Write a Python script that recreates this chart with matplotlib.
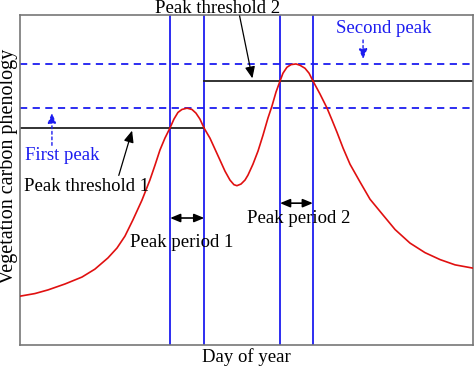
#!/usr/bin/env python

import matplotlib
matplotlib.use('Agg')
import matplotlib.pyplot as plt

plt.rcParams['font.family'] = ['Liberation Serif', 'DejaVu Serif']
fs = 13.5

# curve (day of year, relative phenology value)
days = [0, 12.1, 22.6, 36.3, 50.0, 60.4, 70.9, 78.2, 84.6, 91.0,
        98.3, 104.7, 108.8, 112.8, 116.8, 120.9, 124.1, 127.3, 130.5, 134.6,
        138.6, 141.8, 145.0, 148.3, 153.1, 157.1, 161.1, 165.2, 169.2, 172.4,
        174.8, 178.1, 181.3, 183.7, 187.7, 191.8, 195.8, 199.8, 203.0, 206.3,
        209.5, 211.9, 215.1, 218.4, 222.4, 225.6, 229.6, 232.9, 236.1, 241.7,
        247.4, 251.4, 255.4, 260.3, 265.9, 274.0, 282.0, 292.5, 302.2, 314.2,
        326.3, 338.4, 350.5, 365]
values = [0.148, 0.156, 0.167, 0.185, 0.206, 0.230, 0.264, 0.294, 0.330, 0.379,
          0.439, 0.500, 0.545, 0.591, 0.627, 0.658, 0.685, 0.705, 0.714, 0.718,
          0.714, 0.703, 0.685, 0.658, 0.627, 0.594, 0.561, 0.527, 0.500, 0.486,
          0.483, 0.488, 0.500, 0.515, 0.548, 0.588, 0.636, 0.688, 0.724, 0.767,
          0.800, 0.824, 0.842, 0.850, 0.852, 0.848, 0.839, 0.824, 0.800, 0.761,
          0.718, 0.682, 0.645, 0.597, 0.548, 0.494, 0.442, 0.394, 0.350, 0.309,
          0.280, 0.259, 0.243, 0.233]

first_peak = 0.718
second_peak = 0.852
threshold1 = 0.658
threshold2 = 0.800
period1 = [121, 148.5]
period2 = [209.5, 236]

blue = '#1c1cf0'
red = '#e01010'


def main():
    fig = plt.figure(figsize=(4.74, 3.69), dpi=100)
    ax = fig.add_axes([0.042, 0.065, 0.956, 0.894])

    ax.plot(days, values, color=red, lw=1.2, zorder=3)

    for d in period1 + period2:
        ax.axvline(d, color=blue, lw=1.3)

    ax.axhline(first_peak, color=blue, lw=1.3, ls=(0, (4, 3)))
    ax.axhline(second_peak, color=blue, lw=1.3, ls=(0, (4, 3)))

    ax.plot([0, period1[1]], [threshold1] * 2, color='#222222', lw=1.3)
    ax.plot([period1[1], 365], [threshold2] * 2, color='#222222', lw=1.3)

    ax.set_xlim(0, 365)
    ax.set_ylim(0, 1)
    ax.set_xticks([])
    ax.set_yticks([])
    for sp in ax.spines.values():
        sp.set_color('#777777')
        sp.set_linewidth(1.2)

    ax.set_xlabel('Day of year', fontsize=fs, labelpad=2)
    fig.text(0.018, 0.55, 'Vegetation carbon phenology', fontsize=14.5,
             rotation=90, ha='center', va='center')

    # thresholds
    ax.annotate('', xy=(91, threshold1), xytext=(79, 0.506),
                arrowprops=dict(arrowstyle='-|>,head_length=0.7,head_width=0.3',
                                color='black', lw=0.9))
    ax.text(54, 0.479, 'Peak threshold 1', fontsize=fs, ha='center', va='center')
    ax.annotate('', xy=(187.7, threshold2), xytext=(176.5, 1.006),
                annotation_clip=False,
                arrowprops=dict(arrowstyle='-|>,head_length=0.7,head_width=0.3',
                                color='black', lw=0.9))
    fig.text(0.46, 0.999, 'Peak threshold 2', fontsize=fs, ha='center', va='top')

    # peaks
    ax.annotate('', xy=(25.8, first_peak - 0.006), xytext=(25.8, 0.597),
                arrowprops=dict(arrowstyle='-|>,head_length=0.6,head_width=0.25',
                                color=blue, lw=1.0, ls=(0, (2, 2))))
    ax.text(33.8, 0.573, 'First peak', fontsize=fs, color=blue,
            ha='center', va='center')
    ax.annotate('', xy=(276.4, second_peak + 0.006), xytext=(276.4, 0.933),
                arrowprops=dict(arrowstyle='-|>,head_length=0.6,head_width=0.25',
                                color=blue, lw=1.0, ls=(0, (2, 2))))
    ax.text(293.3, 0.958, 'Second peak', fontsize=fs, color=blue,
            ha='center', va='center')

    # peak periods
    ax.annotate('', xy=(period1[0], 0.385), xytext=(period1[1], 0.385),
                arrowprops=dict(arrowstyle='<|-|>,head_length=0.6,head_width=0.25',
                                color='black', lw=1.2, shrinkA=0, shrinkB=0))
    ax.text(130.5, 0.312, 'Peak period 1', fontsize=fs, ha='center', va='center')
    ax.annotate('', xy=(period2[0], 0.430), xytext=(period2[1], 0.430),
                arrowprops=dict(arrowstyle='<|-|>,head_length=0.6,head_width=0.25',
                                color='black', lw=1.2, shrinkA=0, shrinkB=0))
    ax.text(224.8, 0.382, 'Peak period 2', fontsize=fs, ha='center', va='center')

    plt.savefig('out.png', dpi=100)
    plt.close()


if __name__ == "__main__":
    main()
